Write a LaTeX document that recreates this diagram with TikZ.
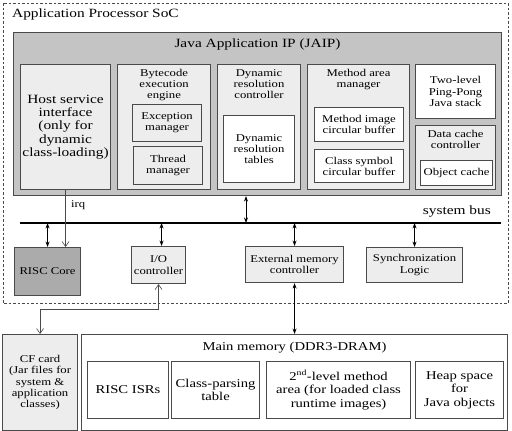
\documentclass[tikz,border=0pt]{standalone}
\usepackage{fontspec}
\setmainfont{Liberation Serif}[FakeStretch=1.22]
\usepackage{tikz}
\usetikzlibrary{
    arrows.meta,
    positioning
}
\definecolor{edgegray}{HTML}{4A4A4A}
\definecolor{jaipgray}{HTML}{C4C4C4}
\definecolor{palegray}{HTML}{EDEDED}
\definecolor{riscgray}{HTML}{ABABAB}
\newcommand\fbig{\fontsize{12.6}{13.3}\selectfont}
\newcommand\fmid{\fontsize{12}{13.5}\selectfont}
\newcommand\fsml{\fontsize{10.4}{11.2}\selectfont}
\tikzset{
    % boxes, placed by their top left corner
    blk/.style={draw=edgegray, line width=1.1pt, anchor=north west,
        inner sep=1pt, align=center, font=\fsml},
    sz/.style 2 args={minimum width=#1pt, minimum height=#2pt},
    jaipbox/.style={blk, fill=jaipgray},
    pale/.style={blk, fill=palegray},
    wht/.style={blk, fill=white},
    dark/.style={blk, fill=riscgray},
    ttl/.style={inner sep=1pt, align=center, font=\fsml},
    % connectors
    dbl/.style={line width=0.8pt, {Stealth[length=5.5pt,width=4pt]}-{Stealth[length=5.5pt,width=4pt]}},
    opn/.style={line width=0.6pt, edgegray, -{Straight Barb[length=5pt,width=7pt]}},
    opn2/.style={line width=0.6pt, edgegray, {Straight Barb[length=5pt,width=7pt]}-{Straight Barb[length=5pt,width=7pt]}},
    bus/.style={line width=2.6pt}
}

\begin{document}
\begin{tikzpicture}[x=1pt,y=-1pt]
    \useasboundingbox (0,0) rectangle (512,431);
    % SoC frame
    \draw[edgegray, line width=0.7pt, dash pattern=on 2.5pt off 2pt] (3,3) rectangle (508,303);
    \node[anchor=west, inner sep=0pt, font=\fbig] (soc) at (12,14) {Application Processor SoC};
    % JAIP
    \node[jaipbox, sz={488}{163}] (jaip) at (13,32) {};
    \node[ttl, font=\fbig, below=6pt of jaip.north] (jaipttl) {Java Application IP (JAIP)};
    \node[pale, sz={90}{125}, font=\fbig] (host) at (20,64) {Host service\\interface\\(only for\\dynamic\\class-loading)};
    \node[pale, sz={93}{125}] (bce) at (117,64) {};
    \node[ttl, below=4pt of bce.north] (bcettl) {Bytecode\\execution\\engine};
    \node[pale, sz={69}{37}] (exc) at (132,104) {Exception\\manager};
    \node[pale, sz={69}{38}] (thr) at (133,146) {Thread\\manager};
    \node[pale, sz={83}{125}] (drc) at (217,64) {};
    \node[ttl, below=4pt of drc.north] (drcttl) {Dynamic\\resolution\\controller};
    \node[wht, sz={71}{67}] (drt) at (223,115) {Dynamic\\resolution\\tables};
    \node[pale, sz={102}{125}] (mam) at (307,64) {};
    \node[ttl, below=4pt of mam.north] (mamttl) {Method area\\manager};
    \node[wht, sz={89}{34}] (mib) at (314,107) {Method image\\circular buffer};
    \node[wht, sz={89}{33}] (csb) at (314,149) {Class symbol\\circular buffer};
    \node[wht, sz={80}{54}] (stk) at (415,64) {Two-level\\Ping-Pong\\Java stack};
    \node[pale, sz={80}{64}] (dcc) at (415,125) {};
    \node[ttl, below=4pt of dcc.north] (dccttl) {Data cache\\controller};
    \node[wht, sz={72}{25}] (obj) at (420,160) {Object cache};
    % system bus
    \coordinate (busL) at (20,223);
    \coordinate (busR) at (501,223);
    \coordinate (jb) at (246,223);
    \draw[bus] (busL) -- (busR);
    \node[anchor=south east, inner sep=0pt, font=\fbig] (bustxt) at (491,217) {system bus};
    % bus clients
    \node[dark, sz={66}{48}] (risc) at (14,247) {RISC Core};
    \node[pale, sz={54}{37}] (io) at (131,246) {I/O\\controller};
    \node[pale, sz={98}{36}] (emc) at (245,246) {External memory\\controller};
    \node[pale, sz={96}{35}] (sync) at (366,247) {Synchronization\\Logic};
    \draw[dbl] (jb |- jaip.south) -- (jb);
    \draw[dbl] (risc.north |- busL) -- (risc.north);
    \draw[dbl] ([xshift=3pt]io.north |- busL) -- ([xshift=3pt]io.north);
    \draw[dbl] (emc.north |- busL) -- (emc.north);
    \draw[dbl] (sync.north |- busL) -- (sync.north);
    \draw[opn] (host.south) -- (host.south |- risc.north);
    \node[anchor=west, inner sep=0pt, font=\fsml] (irq) at (71,205) {irq};
    % off-chip
    \node[pale, sz={75}{96}] (cf) at (2,334) {CF card\\(Jar files for\\system \&\\application\\classes)};
    \node[wht, sz={426}{96}] (mem) at (81,334) {};
    \node[ttl, font=\fmid, below=7pt of mem.north] (memttl) {Main memory (DDR3-DRAM)};
    \node[wht, sz={81}{57}, font=\fmid] (isr) at (87,361) {RISC ISRs};
    \node[wht, sz={88}{57}, font=\fmid] (cpt) at (171,361) {Class-parsing\\table};
    \node[wht, sz={144}{57}, font=\fmid] (mth) at (266,361) {2\textsuperscript{nd}-level method\\area (for loaded class\\runtime images)};
    \node[wht, sz={88}{57}, font=\fmid] (heap) at (415,361) {Heap space\\for\\Java objects};
    \draw[dbl] (emc.south) -- (emc.south |- mem.north);
    \draw[opn2] (io.south) -- ++(0,25) -| (cf.north);
\end{tikzpicture}
\end{document}
